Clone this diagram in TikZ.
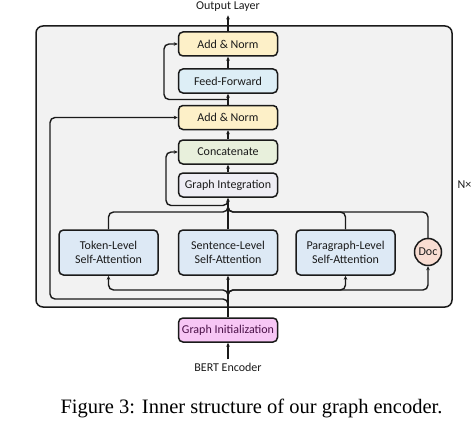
\documentclass[tikz,border=0pt]{standalone}
\usepackage{fontspec}
\setmainfont{Carlito}
\newfontfamily\capfont{Liberation Serif}
\usetikzlibrary{arrows.meta,calc}
\definecolor{bgc}{HTML}{F2F2F2}
\definecolor{addc}{HTML}{FDF0C8}
\definecolor{ffc}{HTML}{DDEEF6}
\definecolor{concc}{HTML}{E8F0DC}
\definecolor{gic}{HTML}{EEEDF4}
\definecolor{attc}{HTML}{DDE9F5}
\definecolor{docc}{HTML}{F9DDD2}
\definecolor{ginitc}{HTML}{F7C6F5}
\definecolor{ginitt}{HTML}{4A1048}
\definecolor{linec}{HTML}{1A1A1A}
\begin{document}
\begin{tikzpicture}[x=1pt,y=-1pt,
  txt/.style={font=\fontsize{12}{13.5}\selectfont, text=linec},
  blk/.style={txt, draw=linec, line width=1.5pt, rounded corners=4.5pt, minimum width=99pt, minimum height=24pt, inner sep=0pt},
  att/.style={blk, minimum height=45pt, align=center, fill=attc},
  con/.style={line width=1.4pt, draw=linec},
  arr/.style={con, -{Stealth[length=4pt,width=3.6pt]}},
]
\useasboundingbox (0,0) rectangle (474,428);
\draw[fill=bgc, draw=linec, line width=1.5pt, rounded corners=7pt] (36,26) rectangle (452,307);

\node[blk, fill=addc] (an2) at (228,44) {Add \& Norm};
\node[blk, fill=ffc] (ff) at (228,81) {Feed-Forward};
\node[blk, fill=addc] (an1) at (228,117.5) {Add \& Norm};
\node[blk, fill=concc] (cat) at (228,152) {Concatenate};
\node[blk, fill=gic] (gi) at (228,185) {Graph Integration};
\node[att] (tok) at (108.5,252.5) {Token-Level\\Self-Attention};
\node[att] (sen) at (228,252.5) {Sentence-Level\\Self-Attention};
\node[att] (par) at (345.5,252.5) {Paragraph-Level\\Self-Attention};
\node[txt, circle, draw=linec, fill=docc, minimum size=27pt, inner sep=0pt, line width=1.5pt] (doc) at (428,252) {Doc};
\node[blk, fill=ginitc, text=ginitt] (init) at (228,330) {Graph Initialization};
\node[txt] (bert) at (228,367) {BERT Encoder};
\node[txt] (out) at (228,7) {Output Layer};
\node[txt, anchor=west] (nx) at (454,185) {N×};
\node[font=\capfont\fontsize{20.5}{23}\selectfont] (cap) at (251.5,408) {Figure 3: Inner structure of our graph encoder.};

\coordinate (bl) at (0,290);
\coordinate (bu) at (0,212);

% straight arrows
\draw[arr] (bert.north) -- (init.south);
\draw[arr] (init.north) -- (sen.south);
\draw[arr] (sen.north) -- (gi.south);
\draw[arr] (gi.north) -- (cat.south);
\draw[arr] (cat.north) -- (an1.south);
\draw[arr] (an1.north) -- (ff.south);
\draw[arr] (ff.north) -- (an2.south);
\draw[arr] (an2.north) -- (out.south);

% lower bus
\draw[arr, rounded corners=5pt] (228,298) |- (tok.south |- bl) -- (tok.south);
\draw[arr, rounded corners=5pt] (228,298) |- (par.south |- bl) -- (par.south);
\draw[arr, rounded corners=5pt] (228,298) |- (doc.south |- bl) -- (doc.south);

% outer residual
\draw[arr, rounded corners=5pt] (228,306) |- (50,299) |- (an1.west);

% upper bus
\draw[con, rounded corners=5pt] (tok.north) |- (gi.south |- bu) -- (228,203);
\draw[con, rounded corners=5pt] (par.north) |- (gi.south |- bu) -- (228,203);
\draw[con, rounded corners=5pt] (doc.north) |- (gi.south |- bu) -- (228,203);

% concat residual
\draw[arr, rounded corners=5pt] (228,199) |- (166,205.5) |- (cat.west);

% FF residual
\draw[arr, rounded corners=5pt] (228,99.5) -| (164,44) -- (an2.west);
\end{tikzpicture}
\end{document}
